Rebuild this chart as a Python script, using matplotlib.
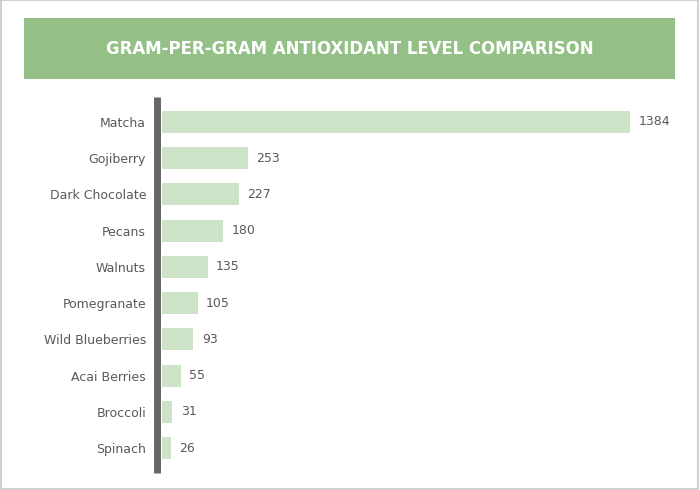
import matplotlib
matplotlib.use("Agg")
import matplotlib.pyplot as plt
from matplotlib.patches import Rectangle

categories = ["Matcha", "Gojiberry", "Dark Chocolate", "Pecans", "Walnuts",
              "Pomegranate", "Wild Blueberries", "Acai Berries", "Broccoli", "Spinach"]
values = [1384, 253, 227, 180, 135, 105, 93, 55, 31, 26]
title = "GRAM-PER-GRAM ANTIOXIDANT LEVEL COMPARISON"

W, H = 700, 490
fig = plt.figure(figsize=(7, 4.9), dpi=100)
fig.patch.set_facecolor("white")

# outer border
fig.patches.append(Rectangle((0.5 / W, 1 - 488.5 / H), 697 / W, 488 / H,
                             transform=fig.transFigure, fill=False,
                             edgecolor="#c8c8c8", linewidth=1.2))
# title banner
fig.patches.append(Rectangle((24 / W, 1 - 79 / H), 651 / W, 61 / H,
                             transform=fig.transFigure, facecolor="#94c087",
                             edgecolor="none"))
fig.text(350 / W, 1 - 49 / H, title, ha="center", va="center", color="white",
         fontsize=13.2, fontweight="semibold", family="DejaVu Sans",
         fontstretch="condensed")

left, right = 162, 675
top, bottom = 97, 473
ax = fig.add_axes([left / W, 1 - bottom / H, (right - left) / W, (bottom - top) / H])
for s in ["top", "right", "bottom"]:
    ax.spines[s].set_visible(False)
ax.spines["left"].set_position(("outward", 3.5))
ax.spines["left"].set_color("#666666")
ax.spines["left"].set_linewidth(5)
ax.spines["left"].set_capstyle("butt")
ax.set_facecolor("none")

scale = (630 - 162) / 1384.0
ax.set_xlim(0, (right - left) / scale)
ax.set_ylim(len(categories) - 1 + 0.69, -0.69)

y = list(range(len(categories)))
ax.barh(y, values, height=0.61, color="#cde3c8", edgecolor="none")
for yi, v in zip(y, values):
    ax.annotate(str(v), (v, yi), xytext=(6, 0), textcoords="offset points",
                ha="left", va="center", fontsize=9, color="#595959",
                family="DejaVu Sans")

ax.set_yticks(y)
ax.set_yticklabels(categories, fontsize=9, color="#595959", family="DejaVu Sans")
ax.tick_params(axis="y", length=0, pad=8, labelsize=9, labelcolor="#595959")
ax.set_xticks([])

fig.savefig("out.png", dpi=100, facecolor="white")
